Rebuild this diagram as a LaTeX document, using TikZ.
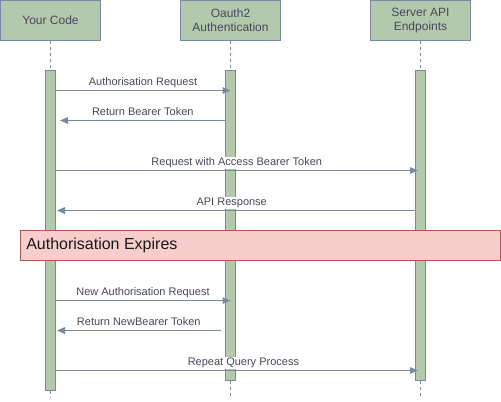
\documentclass[tikz,border=0pt]{standalone}
\usepackage{fontspec}
\setmainfont{Liberation Sans}
\usetikzlibrary{arrows.meta}
\definecolor{actfill}{HTML}{B2C9AB}
\definecolor{actline}{HTML}{788AA3}
\definecolor{txt}{HTML}{46495D}
\definecolor{expfill}{HTML}{F8CECC}
\definecolor{expline}{HTML}{B85450}
\begin{document}
\begin{tikzpicture}[x=0.75pt,y=-0.75pt,
  actor/.style={draw=actline, fill=actfill, line width=0.75pt, minimum width=75pt, minimum height=30pt,
    inner sep=0pt, text=txt, align=center, font=\fontsize{9}{10.8}\selectfont},
  bar/.style={draw=actline, fill=actfill, line width=0.75pt, minimum width=7.5pt, inner sep=0pt},
  lifeline/.style={draw=actline, line width=0.75pt, dash pattern=on 2.25pt off 2.25pt},
  msg/.style={draw=actline, line width=0.75pt, -{Triangle[length=6pt,width=5pt]}},
  lbl/.style={text=txt, fill=white, font=\fontsize{8.25}{9.9}\selectfont, inner xsep=1pt, inner ysep=0.8pt, anchor=base, yshift=3.6pt}
]
\useasboundingbox (0,0) rectangle (501,401);
\fill[white] (0,0) rectangle (501,401);

% actors
\node[actor] (a1) at (50.5,20.5) {Your Code};
\node[actor] (a2) at (230.5,20.5) {Oauth2\\Authentication};
\node[actor] (a3) at (420.5,20.5) {Server API\\Endpoints};

% activation bars
\node[bar, minimum height=240pt] (b1) at (50.5,230.5) {};
\node[bar, minimum height=232.5pt] (b2) at (230.5,225.5) {};
\node[bar, minimum height=232.5pt] (b3) at (420.5,225.5) {};

% lifeline ends
\coordinate (e1) at (50.5,398);
\coordinate (e2) at (230.5,398);
\coordinate (e3) at (420.5,398);

\draw[lifeline] (a1.south) -- (b1.north);
\draw[lifeline] (a2.south) -- (b2.north);
\draw[lifeline] (a3.south) -- (b3.north);
\draw[lifeline] (b1.south) -- (e1);
\draw[lifeline] (b2.south) -- (e2);
\draw[lifeline] (b3.south) -- (e3);

% message endpoints
\coordinate (m1s) at (55.5,90.5);  \coordinate (m1e) at (230.5,90.5);
\coordinate (m2s) at (225.5,120.5); \coordinate (m2e) at (60,120.5);
\coordinate (m3s) at (55.5,170.5); \coordinate (m3e) at (418,170.5);
\coordinate (m4s) at (415.5,210.5); \coordinate (m4e) at (57,210.5);
\coordinate (m5s) at (55.5,300.5); \coordinate (m5e) at (230.5,300.5);
\coordinate (m6s) at (220.5,330.5); \coordinate (m6e) at (57,330.5);
\coordinate (m7s) at (55.5,370.5); \coordinate (m7e) at (418,370.5);

\draw[msg] (m1s) -- node[lbl] {Authorisation Request} (m1e);
\draw[msg] (m2s) -- node[lbl] {Return Bearer Token} (m2e);
\draw[msg] (m3s) -- node[lbl] {Request with Access Bearer Token} (m3e);
\draw[msg] (m4s) -- node[lbl, xshift=-3.4pt] {API Response} (m4e);
\draw[msg] (m5s) -- node[lbl] {New Authorisation Request} (m5e);
\draw[msg] (m6s) -- node[lbl] {Return NewBearer Token} (m6e);
\draw[msg] (m7s) -- node[lbl, xshift=5pt] {Repeat Query Process} (m7e);

% expiry band
\draw[draw=expline, fill=expfill, line width=0.75pt] (20.5,230.5) rectangle (500.5,260.5);
\node[anchor=west, inner sep=0pt, font=\fontsize{12}{14}\selectfont, text=black!90] (exp) at (26,245.5) {Authorisation Expires};
\end{tikzpicture}
\end{document}
